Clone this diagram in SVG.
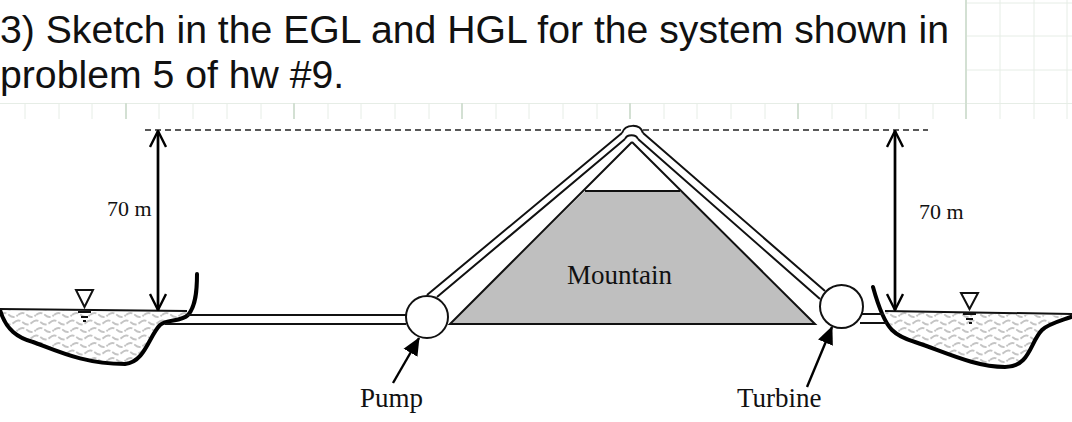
<svg xmlns="http://www.w3.org/2000/svg" width="1072" height="422" viewBox="0 0 1072 422">
<style>
.t{font-family:"Liberation Sans",Arial,sans-serif;font-size:39.200px;fill:#111}
.s{font-family:"Liberation Serif","Times New Roman",serif;fill:#111}
.g{stroke:#e6ede6;stroke-width:1;fill:none}
.gm{stroke:#d3e0d3;stroke-width:2;fill:none}
.l{stroke:#111;stroke-width:2;fill:none}
.b{stroke:#000;stroke-width:4;fill:none;stroke-linecap:round;stroke-linejoin:round}
.a{stroke:#000;stroke-width:2.400;fill:none}
.w{fill:url(#wave);stroke:none}
</style>
<defs>
<pattern id="wave" width="18" height="15" patternUnits="userSpaceOnUse" x="0" y="311">
<path d="M0 4q4.500-4 9 0t9 0M-4 11.500q4.500-4 9 0t9 0t9 0" fill="none" stroke="#c4c4c4" stroke-width="1.800" stroke-dasharray="7 2"/>
</pattern>
<marker id="open" markerWidth="18" markerHeight="18" refX="17" refY="9" orient="auto" markerUnits="userSpaceOnUse" viewBox="0 0 18 18">
<path d="M1 1L17 9L1 17" fill="none" stroke="#000" stroke-width="2.400"/>
</marker>
<marker id="solid" markerWidth="18" markerHeight="18" refX="17" refY="9" orient="auto" markerUnits="userSpaceOnUse" viewBox="0 0 18 18">
<path d="M0 1L18 9L0 17Z" fill="#000"/>
</marker>
</defs>
<rect width="1072" height="422" fill="#fff"/>
<g id="grid">
<path class="g" d="M0 103.500H966M966 3H1072M966 36H1072M966 70H1072M966 103.500H1072M1000 0V119M1034 0V119M1067 0V119"/>
<path class="g" d="M25 103V119M59 103V119M92 103V119M159 103V119M193 103V119M227 103V119M261 103V119M328 103V119M361 103V119M395 103V119M429 103V119M496 103V119M529 103V119M563 103V119M597 103V119M664 103V119M697 103V119M731 103V119M765 103V119M832 103V119M866 103V119M899 103V119M933 103V119"/>
<path class="gm" d="M126 103V119M294 103V119M462 103V119M630 103V119M798 103V119M966 0V119"/>
</g>
<g id="title">
<text class="t" x="0" y="43">3) Sketch in the EGL and HGL for the system shown in</text>
<text class="t" x="0" y="88">problem 5 of hw #9.</text>
</g>
<g id="datum">
<path d="M145 130H622M643 130H928" stroke="#222" stroke-width="1.300" stroke-dasharray="6 4" fill="none"/>
</g>
<g id="mountain">
<path d="M585 191H680L815 324H450Z" fill="#bfbfbf"/>
<path class="l" d="M632 142L450 324H815L632 142M585 191H680"/>
<text class="s" x="567" y="284" font-size="27">Mountain</text>
</g>
<g id="left-reservoir">
<path class="w" d="M0 310C8 332 20 338 33 342C60 352 85 364 127 364C145 362 150 340 160 325C166 320 180 320 188 312L0 309Z"/>
<path class="b" d="M0 310C6 330 18 338 33 342C60 352 85 364 125 364C145 362 149 336 160 325C167 319 181 322 188 315C196 306 197 290 197 274"/>
<path class="l" d="M0 309L187 311"/>
<path class="l" d="M76 290H93L84.500 307Z"/>
<path class="l" d="M78 312H91M81 317H88M83 321H86"/>
</g>
<g id="right-reservoir">
<path class="w" d="M885 312C892 332 898 335 905 338C930 348 970 367 1003 367C1030 367 1030 342 1042 330C1048 324 1060 321 1072 316L885 311Z"/>
<path class="b" d="M873 287C878 305 884 322 892 330C898 336 905 339 915 342C945 352 975 367 1005 367C1030 367 1030 342 1042 330C1048 324 1060 321 1071 317"/>
<path class="l" d="M885 311L1072 314"/>
<path class="l" d="M961 293H978L969.500 309Z"/>
<path class="l" d="M963 314H976M966 319H973M969 323H972"/>
</g>
<g id="connectors">
<path class="l" d="M187 315H406M165 324H406"/>
<path class="l" d="M862 314H884M860 323H887"/>
<path class="l" d="M427 295L622 133M437 297L625 139"/>
<path class="l" d="M643 133L825 291M638 139L820 299"/>
<path class="l" d="M622 133C625 124 640 123 643 133M625 139C627 134 636 134 638 139"/>
<path class="a" d="M158 310V131" marker-end="url(#open)"/>
<path class="a" d="M158 131V310" marker-end="url(#open)"/>
<path class="a" d="M895 310V131" marker-end="url(#open)"/>
<path class="a" d="M895 131V310" marker-end="url(#open)"/>
<path class="a" d="M393 383L419 338" marker-end="url(#solid)"/>
<path class="a" d="M807 387L832 327" marker-end="url(#solid)"/>
</g>
<g id="pump">
<circle cx="427" cy="317" r="21" fill="#fff" stroke="#111" stroke-width="2"/>
<text class="s" x="360" y="407" font-size="27">Pump</text>
</g>
<g id="turbine">
<circle cx="841.500" cy="306.500" r="21.500" fill="#fff" stroke="#111" stroke-width="2"/>
<text class="s" x="737" y="407" font-size="27">Turbine</text>
</g>
<g id="labels">
<text class="s" x="107" y="216" font-size="22">70 m</text>
<text class="s" x="919" y="219" font-size="22">70 m</text>
</g>
</svg>
